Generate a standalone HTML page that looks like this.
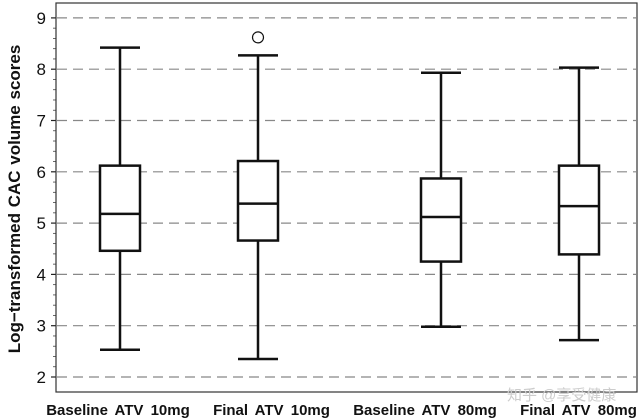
<!DOCTYPE html>
<html><head><meta charset="utf-8"><style>
html,body{margin:0;padding:0;background:#fff;}
svg{display:block;font-family:"Liberation Sans","Noto Sans CJK SC",sans-serif;}
</style></head><body>
<svg id="chart" width="640" height="420" xmlns="http://www.w3.org/2000/svg">
<rect x="0" y="0" width="640" height="420" fill="#fff"/>
<g id="grid"></g>
<g id="axis"></g>
<g id="boxes"></g>
<rect x="56" y="3" width="581" height="389" fill="none" stroke="#333" stroke-width="1.2"/>
<text transform="translate(20,199) rotate(-90)" text-anchor="middle" font-size="17" font-weight="bold" word-spacing="1" fill="#111">Log−transformed CAC volume scores</text>
<text x="507" y="400" font-size="15" fill="#ccc">知乎 @享受健康</text>
</svg>
<script>
const categories=["Baseline ATV 10mg","Final ATV 10mg","Baseline ATV 80mg","Final ATV 80mg"];
const lows=[2.53,2.35,2.98,2.72];
const q1s=[4.46,4.66,4.25,4.39];
const medians=[5.18,5.38,5.12,5.33];
const q3s=[6.12,6.21,5.87,6.12];
const highs=[8.42,8.27,7.93,8.03];
const outliers=[[],[8.62],[],[]];
const yTicks=[2,3,4,5,6,7,8,9];
const NS="http://www.w3.org/2000/svg";
function y(v){return 377-(v-2)*51.3;}
function x(i){return 120+i*138+(i>=2?45:0);}
function lx(i){return 118+i*153.5;}
function mk(p,tag,attrs){const e=document.createElementNS(NS,tag);for(const k in attrs)e.setAttribute(k,attrs[k]);p.appendChild(e);return e;}
const grid=document.getElementById('grid'),axis=document.getElementById('axis'),boxes=document.getElementById('boxes');
yTicks.forEach(t=>{
 const l=mk(grid,'line',{x1:57,x2:636,y1:y(t),y2:y(t),stroke:'#888','stroke-width':1.2,'stroke-dasharray':'10,6'});
 
 
 const tk=mk(axis,'line',{x1:51,x2:56,y1:y(t),y2:y(t),stroke:'#222','stroke-width':1.2});
 
 
 const tx=mk(axis,'text',{x:46,y:y(t)+6,'text-anchor':'end','font-size':17,fill:'#111'});
 tx.textContent=t;
 
 
});
for(let v=2;v<9;v+=0.2){if(Math.abs(v-Math.round(v))<0.01)continue;mk(axis,'line',{x1:53,x2:56,y1:y(v),y2:y(v),stroke:'#444','stroke-width':0.8});}
categories.forEach((c,i)=>{
 const g=mk(boxes,'g',{stroke:'#111','stroke-width':2.5,fill:'none'});
 
 
 const cx=x(i),hw=20;
 mk(g,'line',{x1:cx,x2:cx,y1:y(highs[i]),y2:y(q3s[i])});
 mk(g,'line',{x1:cx,x2:cx,y1:y(q1s[i]),y2:y(lows[i])});
 mk(g,'line',{x1:cx-hw,x2:cx+hw,y1:y(highs[i]),y2:y(highs[i])});
 mk(g,'line',{x1:cx-hw,x2:cx+hw,y1:y(lows[i]),y2:y(lows[i])});
 mk(g,'rect',{x:cx-hw,y:y(q3s[i]),width:2*hw,height:y(q1s[i])-y(q3s[i]),fill:'#fff'});
 mk(g,'line',{x1:cx-hw,x2:cx+hw,y1:y(medians[i]),y2:y(medians[i])});
 outliers[i].forEach(o=>{const c2=mk(g,'circle',{cx:cx,cy:y(o),r:5.5,'stroke-width':1.2});
  
  });
 const t=mk(axis,'text',{x:lx(i),y:415,'text-anchor':'middle','font-size':15,'font-weight':'bold','word-spacing':3,fill:'#111'});
 t.textContent=c;
 
 
});
</script>
</body></html>
